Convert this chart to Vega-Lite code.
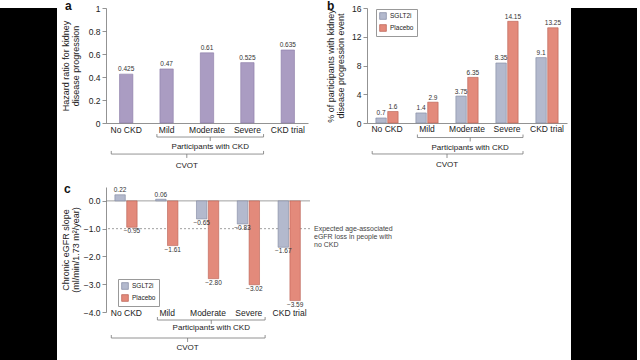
{
  "$schema": "https://vega.github.io/schema/vega-lite/v6.json",
  "background": "white",
  "padding": 0,
  "autosize": {"type": "pad"},
  "datasets": {
    "hr": [
      {"group": "No CKD", "value": 0.425, "label": "0.425"},
      {"group": "Mild", "value": 0.47, "label": "0.47"},
      {"group": "Moderate", "value": 0.61, "label": "0.61"},
      {"group": "Severe", "value": 0.525, "label": "0.525"},
      {"group": "CKD trial", "value": 0.635, "label": "0.635"}
    ],
    "events": [
      {"group": "No CKD", "series": "SGLT2i", "value": 0.7, "label": "0.7"},
      {"group": "No CKD", "series": "Placebo", "value": 1.6, "label": "1.6"},
      {"group": "Mild", "series": "SGLT2i", "value": 1.4, "label": "1.4"},
      {"group": "Mild", "series": "Placebo", "value": 2.9, "label": "2.9"},
      {"group": "Moderate", "series": "SGLT2i", "value": 3.75, "label": "3.75"},
      {"group": "Moderate", "series": "Placebo", "value": 6.35, "label": "6.35"},
      {"group": "Severe", "series": "SGLT2i", "value": 8.35, "label": "8.35"},
      {"group": "Severe", "series": "Placebo", "value": 14.15, "label": "14.15"},
      {"group": "CKD trial", "series": "SGLT2i", "value": 9.1, "label": "9.1"},
      {"group": "CKD trial", "series": "Placebo", "value": 13.25, "label": "13.25"}
    ],
    "slope": [
      {"group": "No CKD", "series": "SGLT2i", "value": 0.22, "label": "0.22"},
      {"group": "No CKD", "series": "Placebo", "value": -0.95, "label": "−0.95"},
      {"group": "Mild", "series": "SGLT2i", "value": 0.06, "label": "0.06"},
      {"group": "Mild", "series": "Placebo", "value": -1.61, "label": "−1.61"},
      {"group": "Moderate", "series": "SGLT2i", "value": -0.65, "label": "−0.65"},
      {"group": "Moderate", "series": "Placebo", "value": -2.8, "label": "−2.80"},
      {"group": "Severe", "series": "SGLT2i", "value": -0.83, "label": "−0.83"},
      {"group": "Severe", "series": "Placebo", "value": -3.02, "label": "−3.02"},
      {"group": "CKD trial", "series": "SGLT2i", "value": -1.67, "label": "−1.67"},
      {"group": "CKD trial", "series": "Placebo", "value": -3.59, "label": "−3.59"}
    ],
    "reflines": [
      {"line": "zero", "slope": 0, "note": ""},
      {"line": "age", "slope": -1, "note": ["Expected age-associated", "eGFR loss in people with", "no CKD"]}
    ],
    "pwc": [{"bracket": "Participants with CKD"}],
    "cvot": [{"bracket": "CVOT"}],
    "sides": [{"side": "pillarbox"}]
  },
  "spacing": 4,
  "resolve": {"scale": {"color": "independent", "stroke": "independent"}, "legend": {"color": "independent"}},
  "hconcat": [
    {"width": 57, "height": 360, "data": {"name": "sides"}, "mark": {"type": "text", "text": ""}, "view": {"fill": "black", "stroke": null}},
    {
      "spacing": 13,
      "resolve": {"scale": {"color": "independent", "stroke": "independent"}, "legend": {"color": "independent"}},
      "vconcat": [
        {
          "spacing": 18,
          "resolve": {"scale": {"color": "independent", "stroke": "independent"}, "legend": {"color": "independent"}},
          "hconcat": [
            {
              "width": 202, "height": 115,
              "title": {"text": "a", "dx": 4, "offset": -9},
              "layer": [
                {
                  "data": {"name": "hr"},
                  "layer": [
                    {
                      "mark": {"type": "bar", "width": {"band": 0.33}, "color": "#aa9cc2", "stroke": "#8a7aa6", "strokeWidth": 0.6},
                      "encoding": {
                        "x": {"field": "group", "type": "nominal", "scale": {"domain": ["No CKD", "Mild", "Moderate", "Severe", "CKD trial"], "paddingInner": 0, "paddingOuter": 0},
                          "axis": {"title": null, "labelAngle": 0, "labelAlign": "center", "ticks": false, "tickSize": 0, "labelPadding": 2, "domain": true, "labelOverlap": false}},
                        "y": {"field": "value", "type": "quantitative", "scale": {"domain": [0, 1]},
                          "axis": {"title": ["Hazard ratio for kidney", "disease progression"], "values": [0, 0.1, 0.2, 0.3, 0.4, 0.5, 0.6, 0.7, 0.8, 0.9, 1], "tickCount": 10, "format": "~g", "labelOverlap": false, "tickSize": 4, "labelPadding": 2, "titlePadding": 2, "minExtent": 24, "maxExtent": 24}}
                      }
                    },
                    {
                      "mark": {"type": "text", "baseline": "bottom", "dy": -2, "fontSize": 6.5, "color": "#333"},
                      "encoding": {
                        "x": {"field": "group", "type": "nominal"},
                        "y": {"field": "value", "type": "quantitative"},
                        "text": {"field": "label"}
                      }
                    }
                  ]
                },
                {
                  "data": {"name": "pwc"},
                  "layer": [
                    {"mark": {"type": "rule", "color": "#777", "strokeWidth": 0.8}, "encoding": {"x": {"datum": "Mild", "type": "nominal", "bandPosition": 0.26}, "x2": {"datum": "Severe", "bandPosition": 0.9}, "y": {"datum": -0.122}}},
                    {"mark": {"type": "rule", "color": "#777", "strokeWidth": 0.8}, "encoding": {"x": {"datum": "Mild", "type": "nominal", "bandPosition": 0.26}, "y": {"datum": -0.096}, "y2": {"datum": -0.122}}},
                    {"mark": {"type": "rule", "color": "#777", "strokeWidth": 0.8}, "encoding": {"x": {"datum": "Severe", "type": "nominal", "bandPosition": 0.9}, "y": {"datum": -0.096}, "y2": {"datum": -0.122}}},
                    {"mark": {"type": "rule", "color": "#777", "strokeWidth": 0.8}, "encoding": {"x": {"datum": "Moderate", "type": "nominal", "bandPosition": 0.58}, "y": {"datum": -0.122}, "y2": {"datum": -0.157}}},
                    {"mark": {"type": "text", "fontSize": 8, "baseline": "middle", "color": "#222"}, "encoding": {"x": {"datum": "Moderate", "type": "nominal", "bandPosition": 0.58}, "y": {"datum": -0.213}, "text": {"field": "bracket"}}}
                  ]
                },
                {
                  "data": {"name": "cvot"},
                  "layer": [
                    {"mark": {"type": "rule", "color": "#777", "strokeWidth": 0.8}, "encoding": {"x": {"datum": "No CKD", "type": "nominal", "bandPosition": 0.13}, "x2": {"datum": "Severe", "bandPosition": 0.9}, "y": {"datum": -0.27}}},
                    {"mark": {"type": "rule", "color": "#777", "strokeWidth": 0.8}, "encoding": {"x": {"datum": "No CKD", "type": "nominal", "bandPosition": 0.13}, "y": {"datum": -0.243}, "y2": {"datum": -0.27}}},
                    {"mark": {"type": "rule", "color": "#777", "strokeWidth": 0.8}, "encoding": {"x": {"datum": "Severe", "type": "nominal", "bandPosition": 0.9}, "y": {"datum": -0.243}, "y2": {"datum": -0.27}}},
                    {"mark": {"type": "rule", "color": "#777", "strokeWidth": 0.8}, "encoding": {"x": {"datum": "Mild", "type": "nominal", "bandPosition": 1}, "y": {"datum": -0.27}, "y2": {"datum": -0.304}}},
                    {"mark": {"type": "text", "fontSize": 8, "baseline": "middle", "color": "#222"}, "encoding": {"x": {"datum": "Mild", "type": "nominal", "bandPosition": 1}, "y": {"datum": -0.37}, "text": {"field": "bracket"}}}
                  ]
                }
              ]
            },
            {
              "width": 200, "height": 115,
              "title": {"text": "b", "dx": 1, "offset": -9},
              "layer": [
                {
                  "data": {"name": "events"},
                  "layer": [
                    {
                      "mark": {"type": "bar", "strokeWidth": 0.6},
                      "encoding": {
                        "x": {"field": "group", "type": "nominal", "scale": {"domain": ["No CKD", "Mild", "Moderate", "Severe", "CKD trial"], "paddingInner": 0, "paddingOuter": 0},
                          "axis": {"title": null, "labelAngle": 0, "labelAlign": "center", "ticks": false, "tickSize": 0, "labelPadding": 1.5, "domain": true, "labelOverlap": false}},
                        "xOffset": {"field": "series", "type": "nominal", "scale": {"domain": ["SGLT2i", "Placebo"], "paddingInner": 0.12, "paddingOuter": 0.75}},
                        "y": {"field": "value", "type": "quantitative", "scale": {"domain": [0, 16]},
                          "axis": {"title": ["% of participants with kidney", "disease progression event"], "values": [0, 2, 4, 6, 8, 10, 12, 14, 16], "tickCount": 8, "labelOverlap": false, "tickSize": 4, "labelPadding": 2, "titlePadding": 2, "minExtent": 20, "maxExtent": 20}},
                        "color": {"field": "series", "type": "nominal", "scale": {"domain": ["SGLT2i", "Placebo"], "range": ["#b3b9cd", "#e38a7b"]},
                          "legend": {"title": null, "orient": "none", "legendX": 9, "legendY": 1}},
                        "stroke": {"field": "series", "type": "nominal", "scale": {"domain": ["SGLT2i", "Placebo"], "range": ["#7f879f", "#b85e50"]}, "legend": null}
                      }
                    },
                    {
                      "mark": {"type": "text", "baseline": "bottom", "dy": -1.5, "fontSize": 6.5, "color": "#333"},
                      "encoding": {
                        "x": {"field": "group", "type": "nominal"},
                        "xOffset": {"field": "series", "type": "nominal"},
                        "y": {"field": "value", "type": "quantitative"},
                        "text": {"field": "label"}
                      }
                    }
                  ]
                },
                {
                  "data": {"name": "pwc"},
                  "layer": [
                    {"mark": {"type": "rule", "color": "#777", "strokeWidth": 0.8}, "encoding": {"x": {"datum": "Mild", "type": "nominal", "bandPosition": 0.26}, "x2": {"datum": "Severe", "bandPosition": 0.9}, "y": {"datum": -2.02}}},
                    {"mark": {"type": "rule", "color": "#777", "strokeWidth": 0.8}, "encoding": {"x": {"datum": "Mild", "type": "nominal", "bandPosition": 0.26}, "y": {"datum": -1.6}, "y2": {"datum": -2.02}}},
                    {"mark": {"type": "rule", "color": "#777", "strokeWidth": 0.8}, "encoding": {"x": {"datum": "Severe", "type": "nominal", "bandPosition": 0.9}, "y": {"datum": -1.6}, "y2": {"datum": -2.02}}},
                    {"mark": {"type": "rule", "color": "#777", "strokeWidth": 0.8}, "encoding": {"x": {"datum": "Moderate", "type": "nominal", "bandPosition": 0.58}, "y": {"datum": -2.02}, "y2": {"datum": -2.57}}},
                    {"mark": {"type": "text", "fontSize": 8, "baseline": "middle", "color": "#222"}, "encoding": {"x": {"datum": "Moderate", "type": "nominal", "bandPosition": 0.58}, "y": {"datum": -3.41}, "text": {"field": "bracket"}}}
                  ]
                },
                {
                  "data": {"name": "cvot"},
                  "layer": [
                    {"mark": {"type": "rule", "color": "#777", "strokeWidth": 0.8}, "encoding": {"x": {"datum": "No CKD", "type": "nominal", "bandPosition": 0.13}, "x2": {"datum": "Severe", "bandPosition": 0.9}, "y": {"datum": -4.31}}},
                    {"mark": {"type": "rule", "color": "#777", "strokeWidth": 0.8}, "encoding": {"x": {"datum": "No CKD", "type": "nominal", "bandPosition": 0.13}, "y": {"datum": -3.9}, "y2": {"datum": -4.31}}},
                    {"mark": {"type": "rule", "color": "#777", "strokeWidth": 0.8}, "encoding": {"x": {"datum": "Severe", "type": "nominal", "bandPosition": 0.9}, "y": {"datum": -3.9}, "y2": {"datum": -4.31}}},
                    {"mark": {"type": "rule", "color": "#777", "strokeWidth": 0.8}, "encoding": {"x": {"datum": "Mild", "type": "nominal", "bandPosition": 1}, "y": {"datum": -4.31}, "y2": {"datum": -4.87}}},
                    {"mark": {"type": "text", "fontSize": 8, "baseline": "middle", "color": "#222"}, "encoding": {"x": {"datum": "Mild", "type": "nominal", "bandPosition": 1}, "y": {"datum": -5.91}, "text": {"field": "bracket"}}}
                  ]
                }
              ]
            }
          ]
        },
        {
          "width": 204, "height": 125,
          "title": {"text": "c", "dx": 3, "offset": -9},
          "layer": [
            {
              "data": {"name": "reflines"},
              "layer": [
                {
                  "mark": {"type": "rule", "color": "#888", "strokeWidth": 0.8},
                  "encoding": {
                    "y": {"field": "slope", "type": "quantitative"},
                    "strokeDash": {"field": "line", "type": "nominal", "scale": {"domain": ["zero", "age"], "range": [[1, 0], [2, 2]]}, "legend": null}
                  }
                },
                {
                  "transform": [{"filter": "datum.line == 'age'"}],
                  "mark": {"type": "text", "align": "left", "baseline": "middle", "dx": 4, "fontSize": 7, "lineHeight": 8, "color": "#444"},
                  "encoding": {
                    "x": {"datum": "CKD trial", "type": "nominal", "bandPosition": 1},
                    "y": {"field": "slope", "type": "quantitative"},
                    "text": {"field": "note"}
                  }
                }
              ]
            },
            {
              "data": {"name": "slope"},
              "layer": [
                {
                  "mark": {"type": "bar", "strokeWidth": 0.6},
                  "encoding": {
                    "x": {"field": "group", "type": "nominal", "scale": {"domain": ["No CKD", "Mild", "Moderate", "Severe", "CKD trial"], "paddingInner": 0, "paddingOuter": 0},
                      "axis": {"title": null, "labelAngle": 0, "labelAlign": "center", "ticks": false, "tickSize": 0, "labelPadding": 0, "labelBaseline": "middle", "domain": false, "labelOverlap": false}},
                    "xOffset": {"field": "series", "type": "nominal", "scale": {"domain": ["SGLT2i", "Placebo"], "paddingInner": 0.12, "paddingOuter": 0.75}},
                    "y": {"field": "value", "type": "quantitative", "scale": {"domain": [-4, 0.5]},
                      "axis": {"title": ["Chronic eGFR slope", "(ml/min/1.73 m²/year)"], "values": [-4, -3.5, -3, -2.5, -2, -1.5, -1, -0.5, 0, 0.5], "tickCount": 9, "format": ".1f", "labelOverlap": false, "tickSize": 4, "labelPadding": 2, "titlePadding": 2, "minExtent": 24, "maxExtent": 24}},
                    "color": {"field": "series", "type": "nominal", "scale": {"domain": ["SGLT2i", "Placebo"], "range": ["#b3b9cd", "#e38a7b"]},
                      "legend": {"title": null, "orient": "none", "legendX": 12, "legendY": 92}},
                    "stroke": {"field": "series", "type": "nominal", "scale": {"domain": ["SGLT2i", "Placebo"], "range": ["#7f879f", "#b85e50"]}, "legend": null}
                  }
                },
                {
                  "transform": [{"filter": "datum.value >= 0"}],
                  "mark": {"type": "text", "baseline": "bottom", "dy": -1.5, "fontSize": 6.5, "color": "#333"},
                  "encoding": {
                    "x": {"field": "group", "type": "nominal"},
                    "xOffset": {"field": "series", "type": "nominal"},
                    "y": {"field": "value", "type": "quantitative"},
                    "text": {"field": "label"}
                  }
                },
                {
                  "transform": [{"filter": "datum.value < 0"}],
                  "mark": {"type": "text", "baseline": "top", "dy": 1, "fontSize": 6.5, "color": "#333"},
                  "encoding": {
                    "x": {"field": "group", "type": "nominal"},
                    "xOffset": {"field": "series", "type": "nominal"},
                    "y": {"field": "value", "type": "quantitative"},
                    "text": {"field": "label"}
                  }
                }
              ]
            },
            {
              "data": {"name": "pwc"},
              "layer": [
                {"mark": {"type": "rule", "color": "#777", "strokeWidth": 0.8}, "encoding": {"x": {"datum": "Mild", "type": "nominal", "bandPosition": 0.26}, "x2": {"datum": "Severe", "bandPosition": 0.9}, "y": {"datum": -4.288}}},
                {"mark": {"type": "rule", "color": "#777", "strokeWidth": 0.8}, "encoding": {"x": {"datum": "Mild", "type": "nominal", "bandPosition": 0.26}, "y": {"datum": -4.18}, "y2": {"datum": -4.288}}},
                {"mark": {"type": "rule", "color": "#777", "strokeWidth": 0.8}, "encoding": {"x": {"datum": "Severe", "type": "nominal", "bandPosition": 0.9}, "y": {"datum": -4.18}, "y2": {"datum": -4.288}}},
                {"mark": {"type": "rule", "color": "#777", "strokeWidth": 0.8}, "encoding": {"x": {"datum": "Moderate", "type": "nominal", "bandPosition": 0.58}, "y": {"datum": -4.288}, "y2": {"datum": -4.43}}},
                {"mark": {"type": "text", "fontSize": 8, "baseline": "middle", "color": "#222"}, "encoding": {"x": {"datum": "Moderate", "type": "nominal", "bandPosition": 0.58}, "y": {"datum": -4.576}, "text": {"field": "bracket"}}}
              ]
            },
            {
              "data": {"name": "cvot"},
              "layer": [
                {"mark": {"type": "rule", "color": "#777", "strokeWidth": 0.8}, "encoding": {"x": {"datum": "No CKD", "type": "nominal", "bandPosition": 0.13}, "x2": {"datum": "Severe", "bandPosition": 0.9}, "y": {"datum": -4.936}}},
                {"mark": {"type": "rule", "color": "#777", "strokeWidth": 0.8}, "encoding": {"x": {"datum": "No CKD", "type": "nominal", "bandPosition": 0.13}, "y": {"datum": -4.828}, "y2": {"datum": -4.936}}},
                {"mark": {"type": "rule", "color": "#777", "strokeWidth": 0.8}, "encoding": {"x": {"datum": "Severe", "type": "nominal", "bandPosition": 0.9}, "y": {"datum": -4.828}, "y2": {"datum": -4.936}}},
                {"mark": {"type": "rule", "color": "#777", "strokeWidth": 0.8}, "encoding": {"x": {"datum": "Mild", "type": "nominal", "bandPosition": 1}, "y": {"datum": -4.936}, "y2": {"datum": -5.08}}},
                {"mark": {"type": "text", "fontSize": 8, "baseline": "middle", "color": "#222"}, "encoding": {"x": {"datum": "Mild", "type": "nominal", "bandPosition": 1}, "y": {"datum": -5.278}, "text": {"field": "bracket"}}}
              ]
            }
          ]
        }
      ]
    },
    {"width": 66, "height": 360, "data": {"name": "sides"}, "mark": {"type": "text", "text": ""}, "view": {"fill": "black", "stroke": null}}
  ],
  "config": {
    "font": "Liberation Sans",
    "view": {"stroke": null},
    "axis": {"labelFontSize": 8.5, "titleFontSize": 9, "titleFontWeight": "normal", "labelColor": "#222", "titleColor": "#222", "domainColor": "#777", "tickColor": "#777", "domainWidth": 0.8, "tickWidth": 0.8, "grid": false, "titleLineHeight": 10, "labelOverlap": false},
    "legend": {"labelFontSize": 6.5, "labelColor": "#222", "symbolType": "square", "symbolSize": 45, "symbolStrokeColor": "#777", "symbolStrokeWidth": 0.7, "strokeColor": "#999", "fillColor": "white", "padding": 3, "rowPadding": 2, "labelOffset": 3},
    "title": {"fontSize": 12, "fontWeight": "bold", "color": "#111", "anchor": "start", "frame": "bounds"},
    "text": {"font": "Liberation Sans"}
  }
}
